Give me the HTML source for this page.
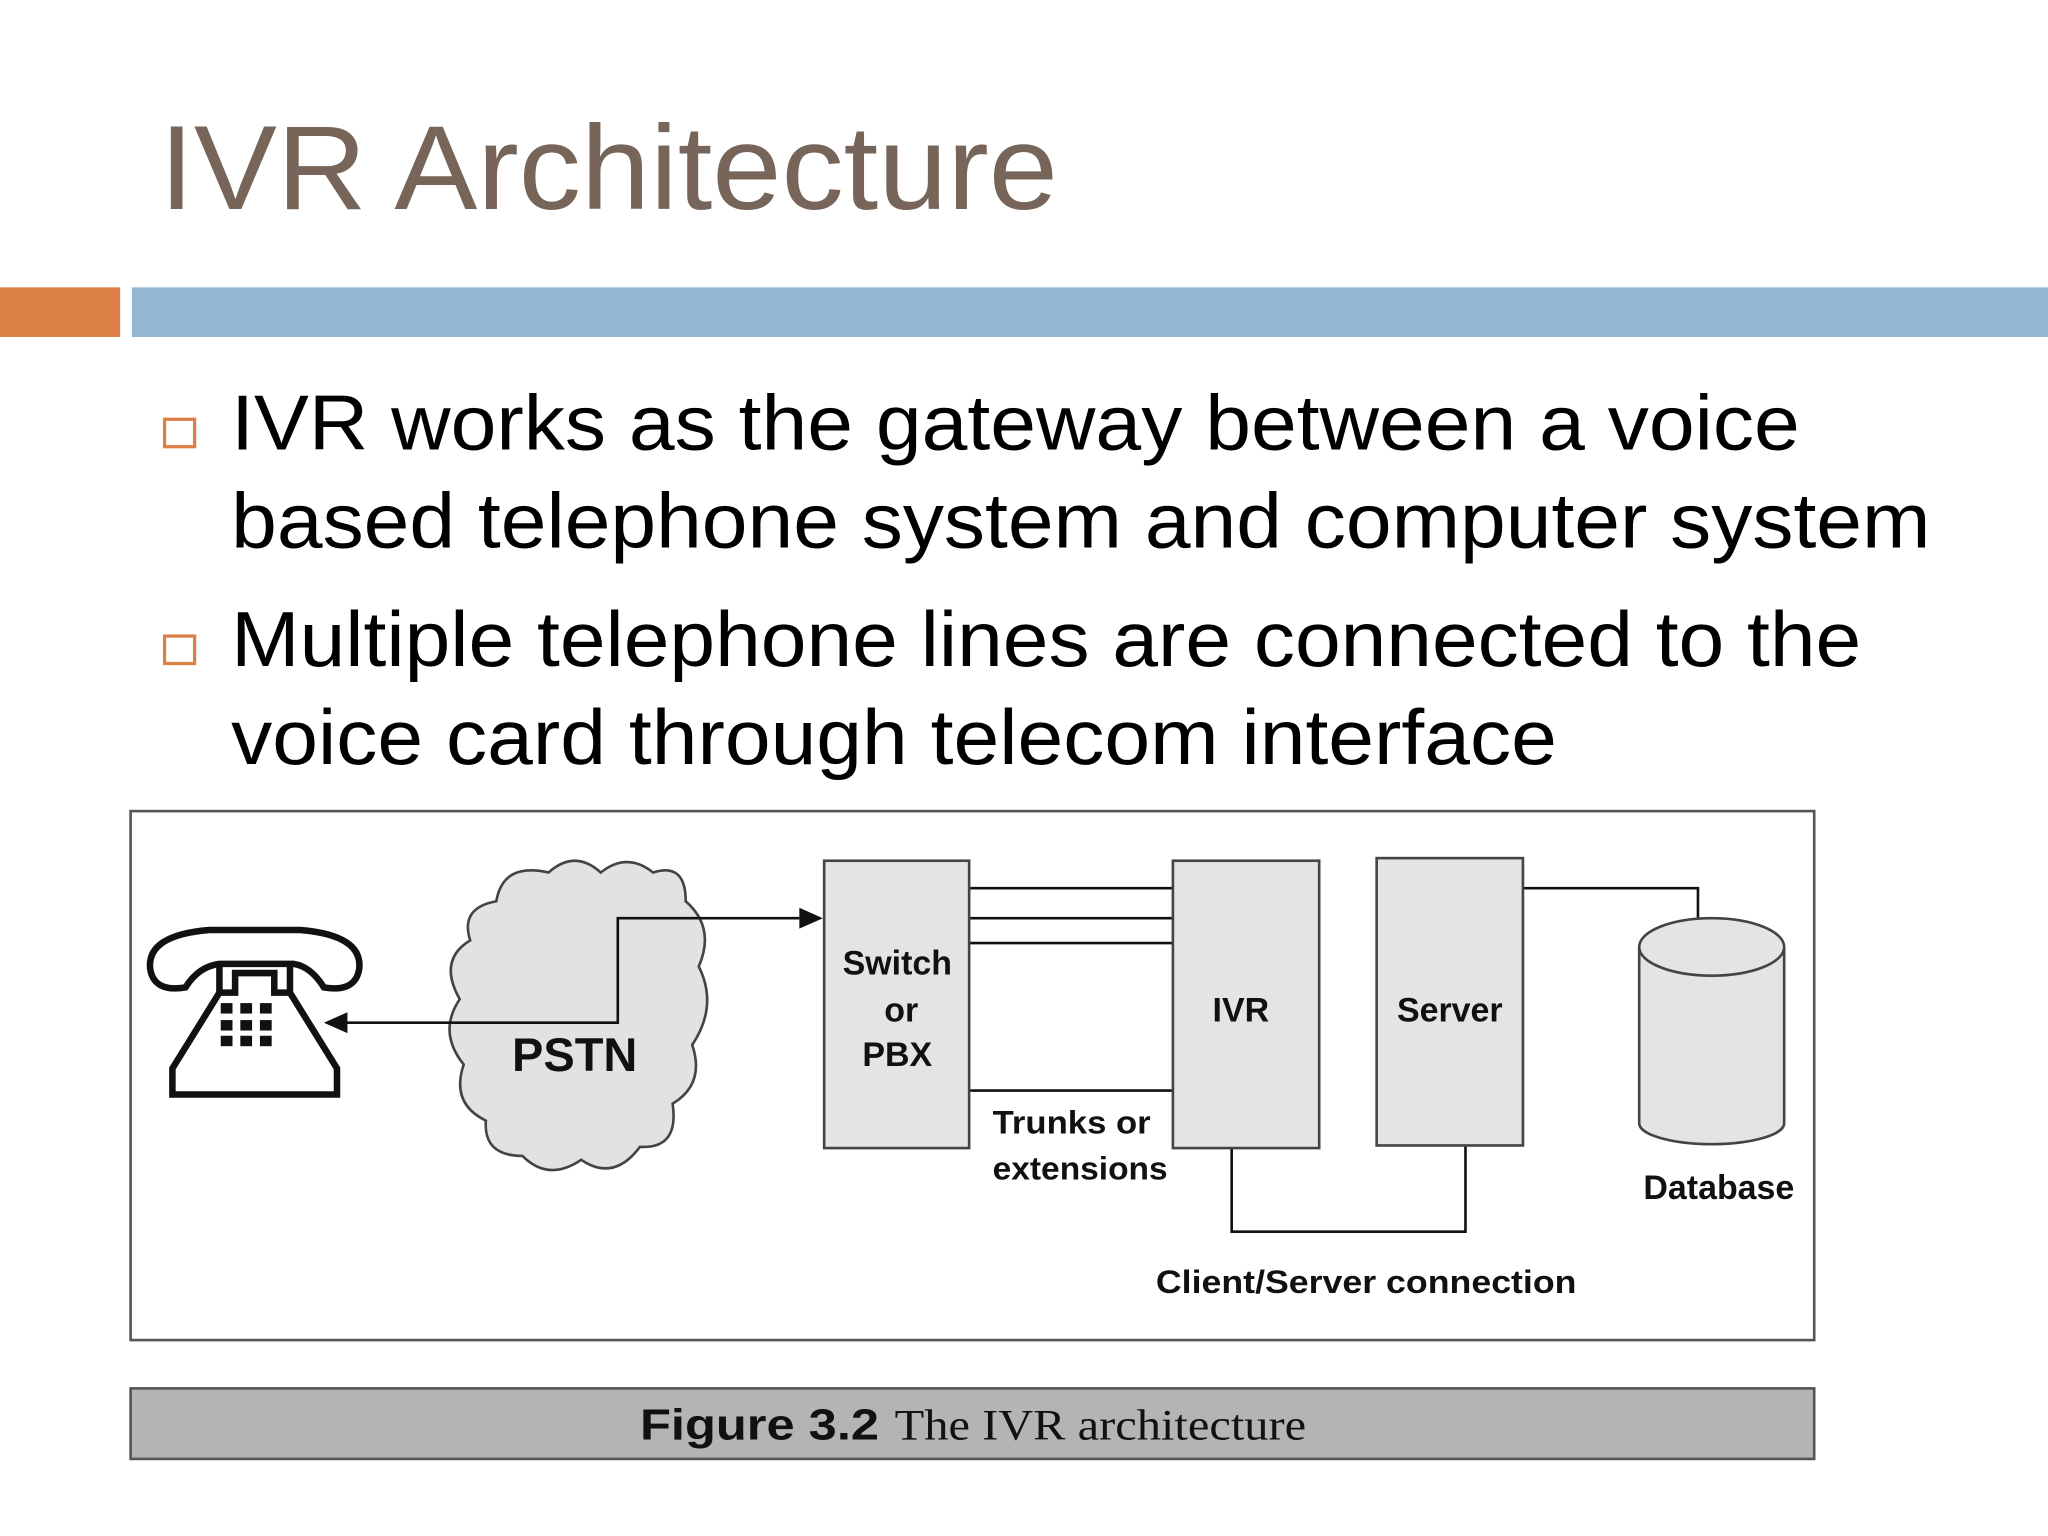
<!DOCTYPE html>
<html><head><meta charset="utf-8"><style>
html,body{margin:0;padding:0;background:#fff;}
svg{display:block;}
</style></head><body>
<svg width="2048" height="1536" viewBox="0 0 1568 1176" xmlns="http://www.w3.org/2000/svg">
<rect width="1568" height="1176" fill="#fff"/>
<text x="122" y="160" font-family="Liberation Sans, sans-serif" font-size="92" fill="#776559" textLength="688" lengthAdjust="spacingAndGlyphs">IVR Architecture</text>
<rect x="0" y="220" width="92" height="38" fill="#dd8047"/>
<rect x="101" y="220" width="1467" height="38" fill="#94b6d2"/>
<g fill="none" stroke="#dd8047" stroke-width="2.5">
<rect x="126" y="321" width="23" height="21"/>
<rect x="126" y="487" width="23" height="21"/>
</g>
<g font-family="Liberation Sans, sans-serif" font-size="60" fill="#000">
<text x="177" y="344" textLength="1201" lengthAdjust="spacingAndGlyphs">IVR works as the gateway between a voice</text>
<text x="177" y="419" textLength="1301" lengthAdjust="spacingAndGlyphs">based telephone system and computer system</text>
<text x="177" y="510" textLength="1248" lengthAdjust="spacingAndGlyphs">Multiple telephone lines are connected to the</text>
<text x="177" y="585" textLength="1015" lengthAdjust="spacingAndGlyphs">voice card through telecom interface</text>
</g>
<rect x="100" y="621" width="1289" height="405" fill="#fff" stroke="#555" stroke-width="2"/>
<!-- phone -->
<g fill="none" stroke="#111" stroke-width="5">
<path d="M115,742 Q112,716 160,712 L230,712 Q278,716 275,742 Q272,760 248,756 Q238,740 225,738 L168,738 Q152,740 142,756 Q118,760 115,742 Z"/>
<path d="M168,738 L168,760 L180,760 L180,745 L210,745 L210,760 L222,760 L222,738"/>
<path d="M168,760 L132,818 L132,838 L258,838 L258,818 L222,760"/>
</g>
<g fill="#111">
<rect x="169" y="768" width="9" height="8"/><rect x="184" y="768" width="9" height="8"/><rect x="199" y="768" width="9" height="8"/>
<rect x="169" y="781" width="9" height="8"/><rect x="184" y="781" width="9" height="8"/><rect x="199" y="781" width="9" height="8"/>
<rect x="169" y="793" width="9" height="8"/><rect x="184" y="793" width="9" height="8"/><rect x="199" y="793" width="9" height="8"/>
</g>
<!-- cloud -->
<path d="M380,690 Q385,660 420,668 Q440,650 460,668 Q480,652 500,668 Q525,660 525,690 Q548,710 535,740 Q550,770 530,800 Q540,830 515,845 Q520,880 490,878 Q470,905 445,888 Q420,905 400,885 Q370,885 372,858 Q345,845 355,815 Q335,790 352,765 Q335,735 360,720 Q352,695 380,690 Z" fill="#e2e2e2" stroke="#444" stroke-width="2"/>
<text x="440" y="820" text-anchor="middle" font-family="Liberation Sans, sans-serif" font-weight="bold" font-size="36" fill="#111">PSTN</text>
<!-- connectors -->
<g stroke="#111" stroke-width="2" fill="none">
<path d="M612,703 L473,703 L473,783 L262,783"/>
<path d="M742,680 L898,680 M742,703 L898,703 M742,722 L898,722 M742,835 L898,835"/>
<path d="M1166,680 L1300,680 L1300,703"/>
<path d="M943,879 L943,943 L1122,943 L1122,877"/>
</g>
<polygon points="630,703 612,695 612,711" fill="#111"/>
<polygon points="248,783 266,775 266,791" fill="#111"/>
<!-- boxes -->
<g fill="#e4e4e4" stroke="#444" stroke-width="2">
<rect x="631" y="659" width="111" height="220"/>
<rect x="898" y="659" width="112" height="220"/>
<rect x="1054" y="657" width="112" height="220"/>
<path d="M1255,725 L1255,860 A55.5,16 0 0 0 1366,860 L1366,725"/>
<ellipse cx="1310.5" cy="725" rx="55.5" ry="22"/>
</g>
<g font-family="Liberation Sans, sans-serif" font-weight="bold" font-size="26" fill="#111" text-anchor="middle">
<text x="687" y="746">Switch</text>
<text x="690" y="782">or</text>
<text x="687" y="816">PBX</text>
<text x="950" y="782">IVR</text>
<text x="1110" y="782">Server</text>
<text x="1316" y="918">Database</text>
</g>
<g font-family="Liberation Sans, sans-serif" font-weight="bold" font-size="25" fill="#111">
<text x="760" y="868" textLength="121" lengthAdjust="spacingAndGlyphs">Trunks or</text>
<text x="760" y="903" textLength="134" lengthAdjust="spacingAndGlyphs">extensions</text>
<text x="885" y="990" textLength="322" lengthAdjust="spacingAndGlyphs">Client/Server connection</text>
</g>
<rect x="100" y="1063" width="1289" height="54" fill="#b4b4b4" stroke="#555" stroke-width="2"/>
<text x="490" y="1102" font-family="Liberation Sans, sans-serif" font-weight="bold" font-size="33" fill="#111" textLength="183" lengthAdjust="spacingAndGlyphs">Figure 3.2</text>
<text x="685" y="1102" font-family="Liberation Serif, serif" font-size="33" fill="#111" textLength="315" lengthAdjust="spacingAndGlyphs">The IVR architecture</text>
</svg>
</body></html>
